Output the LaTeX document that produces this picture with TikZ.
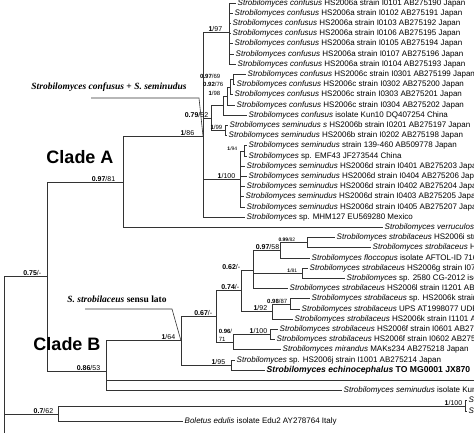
\documentclass[tikz,border=0pt]{standalone}
\usepackage{fontspec}
\setmainfont{Liberation Serif}
\setsansfont{Liberation Sans}
\tikzset{>=latex}
\newcommand{\leaffont}{\sffamily\fontsize{8}{9}\selectfont}
\newcommand{\pp}[2]{\textbf{#1}/#2}
\tikzset{
  branch/.style={draw=black!80, line width=0.7pt},
  leaf/.style={anchor=west, inner sep=1.5pt, font=\leaffont},
  supp/.style={anchor=south east, inner sep=0.6pt, font=\sffamily\fontsize{7}{8}\selectfont},
  suppsmall/.style={supp, font=\sffamily\fontsize{6}{7}\selectfont},
  supptiny/.style={supp, font=\sffamily\fontsize{5}{6}\selectfont},
  clade/.style={font=\sffamily\bfseries\fontsize{18}{20}\selectfont, inner sep=0pt},
  anno/.style={font=\rmfamily\bfseries\fontsize{9.5}{11}\selectfont, inner sep=0pt},
  pointer/.style={draw=black!80, line width=0.6pt}
}
\begin{document}
\begin{tikzpicture}[x=1pt, y=-1pt]
\useasboundingbox (0,0) rectangle (474,433);
% leaves
\foreach \k/\tip/\txt in {
  1/236/{\textit{Strobilomyces confusus} HS2006a strain I0101 AB275190 Japan},
  2/233/{\textit{Strobilomyces confusus} HS2006a strain I0102 AB275191 Japan},
  3/231/{\textit{Strobilomyces confusus} HS2006a strain I0103 AB275192 Japan},
  4/231/{\textit{Strobilomyces confusus} HS2006a strain I0106 AB275195 Japan},
  5/233/{\textit{Strobilomyces confusus} HS2006a strain I0105 AB275194 Japan},
  6/234/{\textit{Strobilomyces confusus} HS2006a strain I0107 AB275196 Japan},
  7/236/{\textit{Strobilomyces confusus} HS2006a strain I0104 AB275193 Japan},
  8/246/{\textit{Strobilomyces confusus} HS2006c strain I0301 AB275199 Japan},
  9/235/{\textit{Strobilomyces confusus} HS2006c strain I0302 AB275200 Japan},
  10/233/{\textit{Strobilomyces confusus} HS2006c strain I0303 AB275201 Japan},
  11/235/{\textit{Strobilomyces confusus} HS2006c strain I0304 AB275202 Japan},
  12/247/{\textit{Strobilomyces confusus} isolate Kun10 DQ407254 China},
  13/228/{\textit{Strobilomyces seminudus s} HS2006b strain I0201 AB275197 Japan},
  14/227/{\textit{Strobilomyces seminudus} HS2006b strain I0202 AB275198 Japan},
  15/247/{\textit{Strobilomyces seminudus} strain 139-460 AB509778 Japan},
  16/247/{\textit{Strobilomyces} sp. EMF43 JF273544 China},
  17/245/{\textit{Strobilomyces seminudus} HS2006d strain I0401 AB275203 Japan},
  18/247/{\textit{Strobilomyces seminudus} HS2006d strain I0404 AB275206 Japan},
  19/245/{\textit{Strobilomyces seminudus} HS2006d strain I0402 AB275204 Japan},
  20/244/{\textit{Strobilomyces seminudus} HS2006d strain I0403 AB275205 Japan},
  21/245/{\textit{Strobilomyces seminudus} HS2006d strain I0405 AB275207 Japan},
  22/245/{\textit{Strobilomyces} sp. MHM127 EU569280 Mexico},
  23/383/{\textit{Strobilomyces verruculosus}},
  24/335/{\textit{Strobilomyces strobilaceus} HS2006i strain},
  25/371/{\textit{Strobilomyces strobilaceus} HS2006i},
  26/310/{\textit{Strobilomyces floccopus} isolate AFTOL-ID 716},
  27/308/{\textit{Strobilomyces strobilaceus} HS2006g strain I07},
  28/345/{\textit{Strobilomyces} sp. 2580 CG-2012 isolate},
  29/288/{\textit{Strobilomyces strobilaceus} HS2006l strain I1201 AB},
  30/310/{\textit{Strobilomyces strobilaceus} sp. HS2006k strain},
  31/300/{\textit{Strobilomyces strobilaceus} UPS AT1998077 UDB},
  32/293/{\textit{Strobilomyces strobilaceus} HS2006k strain I1101 AB},
  33/278/{\textit{Strobilomyces strobilaceus} HS2006f strain I0601 AB275},
  34/275/{\textit{Strobilomyces strobilaceus} HS2006f strain I0602 AB275},
  35/281/{\textit{Strobilomyces mirandus} MAKs234 AB275218 Japan},
  36/235/{\textit{Strobilomyces} sp. HS2006j strain I1001 AB275214 Japan},
  37/265/{\fontsize{8.6}{9}\selectfont\bfseries\textit{Strobilomyces echinocephalus} TO MG0001 JX870},
  39/342/{\textit{Strobilomyces seminudus} isolate Kun},
  40/467/{\textit{Strobilomyces}},
  41/467/{\textit{Strobilomyces}},
  42/183/{\textit{Boletus edulis} isolate Edu2 AY278764 Italy}}
  {\node[leaf] (l\k) at (\tip,{3+10.2*(\k-1)}) {\txt};}
\coordinate (l38) at (480,380.4);
% inner nodes
\coordinate (root) at (4,276);
\coordinate (rootend) at (4,440);
\coordinate (n75) at (47,276);
\coordinate (nCA) at (123,182);
\coordinate (n86) at (203,136);
\coordinate (n97) at (229,32);
\coordinate (n52) at (211,118);
\coordinate (nkun) at (223,105.6);
\coordinate (n98) at (227,96.1);
\coordinate (n76) at (230,87.2);
\coordinate (n69) at (233,79.5);
\coordinate (n99) at (225,130.5);
\coordinate (n100A) at (240,179);
\coordinate (n94) at (244,150.9);
\coordinate (nCB) at (106,371);
\coordinate (n64) at (181,340.8);
\coordinate (n67) at (216,316.5);
\coordinate (n74) at (241,290.8);
\coordinate (n62) at (253,270);
\coordinate (n58) at (280,250.4);
\coordinate (n82) at (307,242.7);
\coordinate (n81) at (302,273.3);
\coordinate (n92) at (272,311.6);
\coordinate (n87) at (290,303.9);
\coordinate (n96) at (233,342.2);
\coordinate (n100B) at (270,334.5);
\coordinate (n95) at (231,365.1);
\coordinate (n762) at (58,414);
\coordinate (n100C) at (465,405.9);
% branches
\draw[branch] (root) -- (rootend);
\draw[branch] (root) -- (n75);
\draw[branch] (root) |- (n762);
\foreach \p/\c in {n75/nCA, n75/nCB, nCA/n86, nCA/l23,
  n86/n97, n86/n52, n86/n100A, n86/l22,
  n97/l1, n97/l2, n97/l3, n97/l4, n97/l5, n97/l6, n97/l7,
  n52/nkun, n52/n99, nkun/n98, nkun/l12, n98/n76, n98/l11,
  n76/n69, n76/l10, n69/l8, n69/l9, n99/l13, n99/l14,
  n100A/n94, n100A/l17, n100A/l18, n100A/l19, n100A/l20, n100A/l21,
  n94/l15, n94/l16,
  nCB/n64, nCB/l38, nCB/l39, n64/n67, n64/n95, n67/n74, n67/n96,
  n74/n62, n74/n92, n62/n58, n62/n81, n62/l29, n58/n82, n58/l26,
  n82/l24, n82/l25, n81/l27, n81/l28, n92/n87, n92/l32, n87/l30, n87/l31,
  n96/n100B, n96/l35, n100B/l33, n100B/l34, n95/l36, n95/l37,
  n762/n100C, n762/l42, n100C/l40, n100C/l41}
  \draw[branch] (\p) |- (\c);
% support values
\foreach \n/\t/\dx in {n97/\pp{1}{97}/-6pt, n52/\pp{0.79}{52}/-2pt,
  n100A/\pp{1}{100}/-4pt, n86/\pp{1}{86}/-8pt, nCA/\pp{0.97}{81}/-7pt,
  n75/\pp{0.75}{-}/-5pt, nCB/\pp{0.86}{53}/-5pt, n64/\pp{1}{64}/-5pt,
  n67/\pp{0.67}{-}/-3pt, n74/\pp{0.74}{-}/-1pt, n62/\pp{0.62}{-}/-12pt,
  n58/\pp{0.97}{58}/0pt, n92/\pp{1}{92}/-4pt, n100B/\pp{1}{100}/-2pt,
  n95/\pp{1}{95}/-5pt, n762/\pp{0.7}{62}/-4pt, n100C/\pp{1}{100}/-2pt}
  \node[supp] (s\n) at ([xshift=\dx]\n) {\t};
\foreach \n/\t/\dx in {n69/\pp{0.97}{69}/-12pt, n76/\pp{0.92}{76}/-6pt,
  n98/\pp{1}{98}/-6pt, n99/\pp{1}{99}/-2pt, n87/\pp{0.98}{87}/-2pt}
  \node[suppsmall] (s\n) at ([xshift=\dx]\n) {\t};
\foreach \n/\t/\dx in {n94/\pp{1}{94}/-6pt, n82/\pp{0.99}{82}/-11pt,
  n81/\pp{1}{81}/-4pt}
  \node[supptiny] (s\n) at ([xshift=\dx]\n) {\t};
\node[supp, anchor=south west, align=left, font=\sffamily\fontsize{6}{7.5}\selectfont]
  (sn96) at ([xshift=2pt]n67 |- n96) {\textbf{0.96}/\\71};
% clade names
\node[clade] (cladeA) at (80,157) {Clade A};
\node[clade] (cladeB) at (67,344) {Clade B};
\node[anno] (csnote) at (109,87) {\textit{Strobilomyces confusus} + \textit{S. seminudus}};
\coordinate (csA) at (91,98);
\coordinate (csB) at (199,98);
\draw[pointer] (csA) -- (csB) -- (n86);
\node[anno] (ssnote) at (117,299) {\textit{S. strobilaceus} sensu lato};
\coordinate (ssA) at (85,309);
\coordinate (ssB) at (172,309);
\draw[pointer] (ssA) -- (ssB) -- (n64);
\end{tikzpicture}
\end{document}
